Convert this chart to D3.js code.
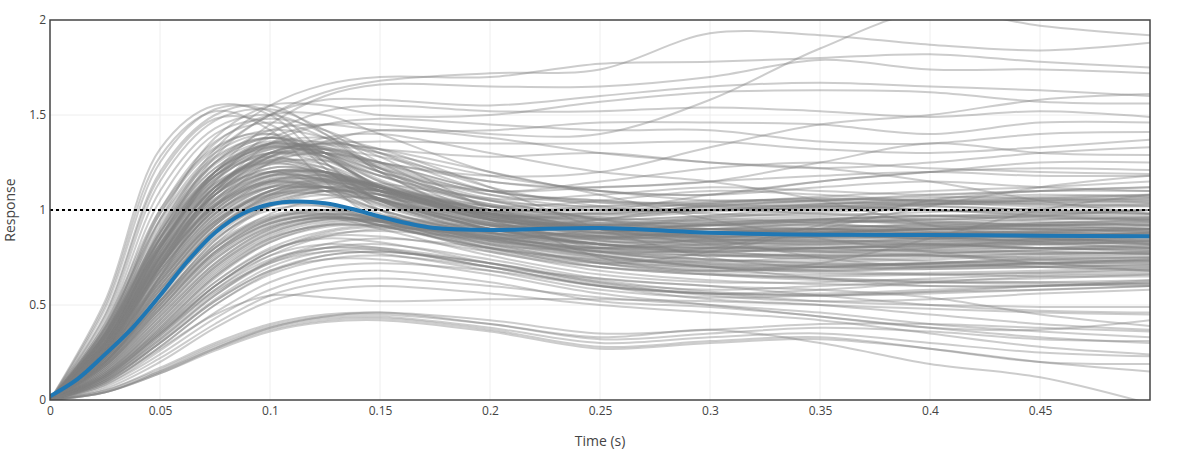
<!DOCTYPE html>
<html>
<head>
<meta charset="utf-8">
<script src="https://cdn.jsdelivr.net/npm/d3@7"></script>
<style>
  body { margin: 0; background: #fff; }
  text { font-family: "Open Sans", "DejaVu Sans", sans-serif; fill: #444; }
</style>
</head>
<body>
<svg id="mainFrame"></svg>
<script>
// sample times shared by every gray run
const timeGrid = [0, 0.025, 0.05, 0.075, 0.1, 0.125, 0.15, 0.2, 0.25, 0.3, 0.35, 0.4, 0.45, 0.5];

// gray runs (fast overshoot)
const fastRuns = [
  [0, 0.52, 1.32, 1.55, 1.5, 1.25, 1.05, 0.92, 0.95, 1.0, 0.98, 0.95, 0.97, 1.0],
  [0, 0.48, 1.25, 1.53, 1.52, 1.3, 1.1, 0.9, 0.88, 0.93, 0.95, 0.92, 0.9, 0.92],
  [0, 0.45, 1.2, 1.5, 1.55, 1.4, 1.2, 0.95, 0.85, 0.88, 0.9, 0.86, 0.84, 0.86],
  [0, 0.42, 1.15, 1.47, 1.53, 1.42, 1.25, 1.02, 0.95, 0.97, 1.02, 1.0, 0.97, 0.95],
  [0, 0.4, 1.1, 1.43, 1.5, 1.4, 1.22, 0.98, 0.9, 0.82, 0.78, 0.8, 0.85, 0.88],
  [0, 0.38, 1.05, 1.4, 1.48, 1.42, 1.3, 1.1, 1.05, 1.02, 1.0, 1.03, 1.05, 1.04],
  [0, 0.36, 1.0, 1.36, 1.46, 1.38, 1.2, 0.95, 0.8, 0.78, 0.8, 0.82, 0.8, 0.78],
  [0, 0.44, 1.18, 1.48, 1.45, 1.22, 1.0, 0.82, 0.8, 0.85, 0.88, 0.86, 0.83, 0.8],
  [0, 0.5, 1.28, 1.52, 1.42, 1.15, 0.95, 0.85, 0.9, 0.95, 0.93, 0.9, 0.92, 0.94],
  [0, 0.35, 0.98, 1.35, 1.5, 1.5, 1.4, 1.2, 1.1, 1.08, 1.12, 1.15, 1.12, 1.1]
];

// runs that stay high
const highRuns = [
  [0, 0.3, 0.88, 1.3, 1.5, 1.62, 1.68, 1.72, 1.74, 1.93, 1.92, 1.87, 1.84, 1.88],
  [0, 0.28, 0.8, 1.2, 1.38, 1.45, 1.45, 1.4, 1.4, 1.58, 1.85, 2.05, 1.97, 1.92],
  [0, 0.32, 0.9, 1.32, 1.55, 1.66, 1.7, 1.7, 1.77, 1.78, 1.8, 1.82, 1.78, 1.75],
  [0, 0.26, 0.78, 1.2, 1.45, 1.6, 1.66, 1.65, 1.65, 1.7, 1.79, 1.74, 1.74, 1.72],
  [0, 0.3, 0.85, 1.28, 1.5, 1.58, 1.58, 1.55, 1.6, 1.65, 1.67, 1.65, 1.63, 1.6],
  [0, 0.34, 0.95, 1.38, 1.55, 1.55, 1.5, 1.5, 1.57, 1.62, 1.63, 1.62, 1.57, 1.56],
  [0, 0.25, 0.75, 1.15, 1.4, 1.52, 1.55, 1.52, 1.52, 1.54, 1.52, 1.49, 1.52, 1.49],
  [0, 0.3, 0.85, 1.25, 1.42, 1.45, 1.42, 1.42, 1.46, 1.46, 1.45, 1.4, 1.46, 1.46],
  [0, 0.22, 0.7, 1.1, 1.35, 1.45, 1.48, 1.45, 1.42, 1.42, 1.36, 1.35, 1.4, 1.41],
  [0, 0.28, 0.8, 1.2, 1.35, 1.32, 1.25, 1.18, 1.2, 1.33, 1.45, 1.5, 1.58, 1.61],
  [0, 0.26, 0.75, 1.12, 1.3, 1.35, 1.36, 1.35, 1.35, 1.36, 1.32, 1.3, 1.33, 1.37],
  [0, 0.24, 0.72, 1.1, 1.3, 1.35, 1.32, 1.28, 1.3, 1.25, 1.22, 1.25, 1.3, 1.33],
  [0, 0.3, 0.82, 1.2, 1.35, 1.3, 1.2, 1.1, 1.12, 1.15, 1.25, 1.35, 1.3, 1.29],
  [0, 0.2, 0.65, 1.05, 1.25, 1.3, 1.25, 1.15, 1.1, 1.08, 1.15, 1.2, 1.25, 1.25]
];

// the dense middle band
const coreRuns = [
  [0, 0.3, 0.75, 1.08, 1.22, 1.2, 1.1, 0.95, 0.92, 0.94, 0.95, 0.93, 0.92, 0.93],
  [0, 0.28, 0.7, 1.02, 1.18, 1.2, 1.12, 0.98, 0.95, 0.97, 1.0, 1.02, 1.0, 0.98],
  [0, 0.25, 0.65, 0.98, 1.15, 1.18, 1.12, 0.96, 0.88, 0.86, 0.88, 0.9, 0.9, 0.88],
  [0, 0.22, 0.6, 0.92, 1.1, 1.16, 1.13, 1.0, 0.9, 0.85, 0.83, 0.85, 0.87, 0.86],
  [0, 0.32, 0.78, 1.1, 1.2, 1.12, 1.0, 0.88, 0.86, 0.88, 0.87, 0.85, 0.86, 0.88],
  [0, 0.2, 0.55, 0.88, 1.08, 1.15, 1.14, 1.05, 0.95, 0.9, 0.88, 0.9, 0.93, 0.95],
  [0, 0.26, 0.66, 0.98, 1.12, 1.12, 1.05, 0.9, 0.82, 0.8, 0.8, 0.82, 0.8, 0.79],
  [0, 0.35, 0.85, 1.18, 1.28, 1.2, 1.05, 0.88, 0.85, 0.9, 0.92, 0.9, 0.88, 0.9],
  [0, 0.18, 0.5, 0.82, 1.02, 1.1, 1.1, 1.02, 0.95, 0.92, 0.9, 0.88, 0.89, 0.9],
  [0, 0.24, 0.62, 0.94, 1.1, 1.12, 1.06, 0.92, 0.86, 0.85, 0.84, 0.83, 0.82, 0.84],
  [0, 0.3, 0.74, 1.06, 1.2, 1.18, 1.08, 0.93, 0.88, 0.87, 0.9, 0.93, 0.95, 0.96],
  [0, 0.27, 0.68, 1.0, 1.16, 1.15, 1.06, 0.9, 0.84, 0.83, 0.86, 0.88, 0.86, 0.82],
  [0, 0.22, 0.58, 0.9, 1.06, 1.1, 1.05, 0.92, 0.85, 0.82, 0.8, 0.78, 0.77, 0.78],
  [0, 0.33, 0.8, 1.12, 1.25, 1.22, 1.12, 0.98, 0.97, 1.0, 1.02, 1.0, 0.98, 1.0],
  [0, 0.2, 0.52, 0.84, 1.02, 1.08, 1.05, 0.95, 0.88, 0.86, 0.86, 0.87, 0.85, 0.83],
  [0, 0.28, 0.7, 1.02, 1.15, 1.12, 1.02, 0.88, 0.83, 0.84, 0.86, 0.85, 0.84, 0.85],
  [0, 0.25, 0.64, 0.96, 1.12, 1.15, 1.1, 0.98, 0.92, 0.92, 0.93, 0.95, 0.96, 0.94],
  [0, 0.3, 0.72, 1.03, 1.15, 1.1, 0.98, 0.84, 0.8, 0.82, 0.84, 0.82, 0.8, 0.81],
  [0, 0.19, 0.5, 0.8, 0.98, 1.06, 1.06, 0.98, 0.9, 0.86, 0.85, 0.86, 0.88, 0.87],
  [0, 0.26, 0.67, 1.0, 1.15, 1.16, 1.1, 0.95, 0.9, 0.9, 0.88, 0.86, 0.88, 0.91],
  [0, 0.23, 0.6, 0.92, 1.08, 1.1, 1.04, 0.9, 0.82, 0.78, 0.76, 0.77, 0.79, 0.8],
  [0, 0.29, 0.73, 1.05, 1.18, 1.16, 1.06, 0.93, 0.9, 0.92, 0.94, 0.96, 0.97, 0.97],
  [0, 0.21, 0.56, 0.88, 1.05, 1.12, 1.1, 1.0, 0.94, 0.93, 0.94, 0.93, 0.92, 0.92],
  [0, 0.31, 0.76, 1.08, 1.2, 1.15, 1.03, 0.88, 0.82, 0.8, 0.82, 0.84, 0.83, 0.82],
  [0, 0.24, 0.62, 0.95, 1.12, 1.16, 1.12, 1.0, 0.93, 0.9, 0.87, 0.85, 0.84, 0.85],
  [0, 0.27, 0.68, 0.99, 1.12, 1.1, 1.0, 0.86, 0.8, 0.78, 0.8, 0.81, 0.82, 0.83],
  [0, 0.34, 0.82, 1.14, 1.25, 1.18, 1.05, 0.92, 0.92, 0.96, 0.98, 0.97, 0.95, 0.96],
  [0, 0.2, 0.54, 0.86, 1.04, 1.1, 1.08, 0.98, 0.9, 0.87, 0.88, 0.9, 0.9, 0.89],
  [0, 0.25, 0.63, 0.94, 1.08, 1.08, 1.0, 0.87, 0.82, 0.82, 0.83, 0.84, 0.82, 0.8],
  [0, 0.29, 0.71, 1.02, 1.14, 1.12, 1.03, 0.9, 0.87, 0.88, 0.89, 0.88, 0.86, 0.86],
  [0, 0.27, 0.7, 1.04, 1.2, 1.2, 1.12, 0.97, 0.9, 0.88, 0.9, 0.92, 0.91, 0.9],
  [0, 0.31, 0.78, 1.12, 1.26, 1.24, 1.12, 0.95, 0.92, 0.95, 0.96, 0.94, 0.93, 0.95],
  [0, 0.23, 0.6, 0.93, 1.1, 1.14, 1.08, 0.93, 0.84, 0.8, 0.79, 0.8, 0.82, 0.83],
  [0, 0.29, 0.74, 1.08, 1.24, 1.26, 1.18, 1.03, 0.96, 0.94, 0.95, 0.97, 0.98, 0.98],
  [0, 0.26, 0.67, 1.0, 1.16, 1.18, 1.1, 0.94, 0.86, 0.83, 0.82, 0.82, 0.84, 0.86],
  [0, 0.21, 0.57, 0.9, 1.08, 1.14, 1.12, 1.0, 0.9, 0.84, 0.82, 0.83, 0.85, 0.86],
  [0, 0.33, 0.82, 1.16, 1.3, 1.26, 1.13, 0.96, 0.9, 0.9, 0.93, 0.95, 0.94, 0.92],
  [0, 0.24, 0.63, 0.96, 1.13, 1.17, 1.12, 0.99, 0.92, 0.9, 0.9, 0.89, 0.88, 0.88],
  [0, 0.28, 0.71, 1.03, 1.18, 1.16, 1.06, 0.91, 0.85, 0.84, 0.85, 0.86, 0.85, 0.84],
  [0, 0.19, 0.52, 0.84, 1.03, 1.1, 1.08, 0.97, 0.88, 0.83, 0.81, 0.8, 0.8, 0.81],
  [0, 0.3, 0.76, 1.1, 1.24, 1.2, 1.08, 0.92, 0.86, 0.86, 0.88, 0.9, 0.9, 0.89],
  [0, 0.25, 0.65, 0.98, 1.15, 1.18, 1.12, 0.98, 0.9, 0.87, 0.86, 0.87, 0.89, 0.9],
  [0, 0.22, 0.59, 0.92, 1.1, 1.15, 1.1, 0.96, 0.86, 0.81, 0.79, 0.79, 0.8, 0.82],
  [0, 0.34, 0.84, 1.18, 1.3, 1.24, 1.1, 0.94, 0.9, 0.92, 0.94, 0.94, 0.92, 0.9],
  [0, 0.27, 0.69, 1.02, 1.18, 1.2, 1.13, 0.99, 0.93, 0.93, 0.95, 0.97, 0.96, 0.95],
  [0, 0.2, 0.55, 0.88, 1.06, 1.12, 1.1, 0.99, 0.91, 0.88, 0.88, 0.9, 0.91, 0.9],
  [0, 0.32, 0.8, 1.13, 1.26, 1.2, 1.06, 0.9, 0.86, 0.88, 0.9, 0.89, 0.87, 0.87],
  [0, 0.24, 0.62, 0.94, 1.1, 1.12, 1.05, 0.9, 0.82, 0.79, 0.78, 0.79, 0.78, 0.77],
  [0, 0.29, 0.73, 1.06, 1.2, 1.19, 1.1, 0.96, 0.92, 0.92, 0.92, 0.91, 0.92, 0.93],
  [0, 0.22, 0.58, 0.9, 1.07, 1.12, 1.08, 0.95, 0.87, 0.84, 0.84, 0.85, 0.86, 0.86],
  [0, 0.26, 0.68, 1.01, 1.17, 1.19, 1.12, 0.97, 0.89, 0.86, 0.86, 0.88, 0.88, 0.87],
  [0, 0.3, 0.75, 1.08, 1.22, 1.2, 1.1, 0.95, 0.9, 0.9, 0.91, 0.92, 0.93, 0.94],
  [0, 0.23, 0.61, 0.93, 1.09, 1.12, 1.06, 0.92, 0.84, 0.81, 0.8, 0.81, 0.83, 0.84],
  [0, 0.28, 0.72, 1.05, 1.2, 1.2, 1.11, 0.96, 0.9, 0.89, 0.89, 0.88, 0.87, 0.88],
  [0, 0.25, 0.64, 0.97, 1.14, 1.17, 1.11, 0.97, 0.9, 0.88, 0.89, 0.91, 0.92, 0.92],
  [0, 0.21, 0.56, 0.89, 1.07, 1.13, 1.1, 0.98, 0.89, 0.85, 0.83, 0.82, 0.83, 0.84],
  [0, 0.33, 0.81, 1.14, 1.27, 1.22, 1.09, 0.93, 0.9, 0.92, 0.95, 0.97, 0.97, 0.96],
  [0, 0.27, 0.7, 1.03, 1.19, 1.2, 1.12, 0.97, 0.91, 0.9, 0.9, 0.9, 0.89, 0.89]
];

// core runs with a bigger overshoot, settling near 1
const upperRuns = [
  [0, 0.36, 0.9, 1.25, 1.38, 1.3, 1.15, 1.0, 1.02, 1.05, 1.05, 1.03, 1.04, 1.05],
  [0, 0.32, 0.82, 1.18, 1.35, 1.35, 1.22, 1.02, 0.98, 1.0, 1.03, 1.06, 1.08, 1.07],
  [0, 0.3, 0.78, 1.15, 1.32, 1.33, 1.25, 1.1, 1.05, 1.03, 1.02, 1.04, 1.06, 1.08],
  [0, 0.38, 0.95, 1.3, 1.4, 1.3, 1.12, 0.97, 0.98, 1.02, 1.04, 1.02, 1.0, 1.0],
  [0, 0.28, 0.74, 1.1, 1.3, 1.36, 1.3, 1.12, 1.02, 0.98, 0.97, 0.99, 1.01, 1.02],
  [0, 0.34, 0.86, 1.22, 1.35, 1.28, 1.12, 0.95, 0.93, 0.96, 0.99, 1.0, 0.99, 0.98],
  [0, 0.3, 0.8, 1.16, 1.3, 1.28, 1.18, 1.06, 1.08, 1.12, 1.1, 1.08, 1.1, 1.12],
  [0, 0.26, 0.7, 1.08, 1.28, 1.34, 1.3, 1.18, 1.1, 1.05, 1.05, 1.08, 1.1, 1.1],
  [0, 0.4, 1.0, 1.33, 1.4, 1.25, 1.05, 0.9, 0.95, 1.03, 1.06, 1.04, 1.02, 1.03],
  [0, 0.33, 0.84, 1.2, 1.34, 1.32, 1.22, 1.08, 1.04, 1.04, 1.07, 1.1, 1.12, 1.15],
  [0, 0.27, 0.72, 1.1, 1.28, 1.32, 1.28, 1.15, 1.12, 1.15, 1.18, 1.2, 1.18, 1.18],
  [0, 0.35, 0.88, 1.24, 1.36, 1.3, 1.16, 1.02, 1.0, 1.08, 1.15, 1.2, 1.22, 1.21],
  [0, 0.31, 0.8, 1.17, 1.33, 1.33, 1.23, 1.1, 1.15, 1.22, 1.25, 1.22, 1.2, 1.19],
  [0, 0.37, 0.92, 1.27, 1.38, 1.28, 1.12, 1.02, 1.05, 1.1, 1.08, 1.05, 1.06, 1.07],
  [0, 0.36, 0.88, 1.22, 1.34, 1.27, 1.13, 0.98, 0.96, 0.99, 1.01, 1.0, 0.99, 1.0],
  [0, 0.3, 0.77, 1.12, 1.28, 1.3, 1.22, 1.06, 1.0, 1.0, 1.02, 1.03, 1.03, 1.02],
  [0, 0.35, 0.86, 1.2, 1.33, 1.28, 1.15, 1.0, 0.98, 1.02, 1.05, 1.05, 1.03, 1.03],
  [0, 0.27, 0.72, 1.08, 1.26, 1.3, 1.24, 1.08, 1.01, 1.0, 1.01, 1.03, 1.05, 1.06],
  [0, 0.32, 0.82, 1.18, 1.32, 1.3, 1.2, 1.05, 1.02, 1.03, 1.05, 1.07, 1.06, 1.05],
  [0, 0.38, 0.94, 1.28, 1.38, 1.28, 1.12, 0.98, 0.99, 1.04, 1.06, 1.05, 1.04, 1.04],
  [0, 0.29, 0.76, 1.12, 1.29, 1.32, 1.25, 1.1, 1.04, 1.02, 1.03, 1.05, 1.07, 1.08],
  [0, 0.34, 0.85, 1.2, 1.33, 1.3, 1.18, 1.03, 1.0, 1.01, 1.03, 1.04, 1.05, 1.06]
];

// runs that wander down or back up late
const driftRuns = [
  [0, 0.38, 0.98, 1.32, 1.42, 1.38, 1.28, 1.0, 0.75, 0.68, 0.7, 0.72, 0.7, 0.68],
  [0, 0.3, 0.8, 1.18, 1.35, 1.38, 1.32, 1.12, 0.9, 0.75, 0.7, 0.72, 0.75, 0.76],
  [0, 0.34, 0.88, 1.25, 1.38, 1.32, 1.2, 1.05, 0.95, 0.85, 0.75, 0.7, 0.72, 0.74],
  [0, 0.28, 0.76, 1.12, 1.3, 1.35, 1.32, 1.2, 1.08, 0.95, 0.85, 0.78, 0.72, 0.7],
  [0, 0.25, 0.7, 1.08, 1.28, 1.38, 1.4, 1.3, 1.2, 1.15, 1.05, 0.92, 0.85, 0.82],
  [0, 0.22, 0.65, 1.02, 1.25, 1.36, 1.42, 1.38, 1.3, 1.25, 1.22, 1.15, 1.05, 0.98],
  [0, 0.2, 0.55, 0.85, 1.0, 1.02, 0.95, 0.8, 0.72, 0.78, 0.9, 1.02, 1.12, 1.18],
  [0, 0.22, 0.58, 0.88, 1.02, 1.02, 0.94, 0.78, 0.7, 0.68, 0.72, 0.85, 1.0, 1.08],
  [0, 0.18, 0.48, 0.78, 0.95, 1.0, 0.97, 0.85, 0.78, 0.8, 0.92, 1.05, 1.1, 1.12]
];

// slower runs settling lower
const slowRuns = [
  [0, 0.15, 0.42, 0.7, 0.88, 0.95, 0.95, 0.86, 0.78, 0.74, 0.72, 0.72, 0.74, 0.75],
  [0, 0.17, 0.46, 0.75, 0.92, 0.98, 0.96, 0.85, 0.76, 0.7, 0.68, 0.7, 0.72, 0.72],
  [0, 0.13, 0.38, 0.65, 0.84, 0.93, 0.95, 0.9, 0.82, 0.78, 0.75, 0.73, 0.72, 0.73],
  [0, 0.2, 0.52, 0.8, 0.95, 0.98, 0.92, 0.8, 0.72, 0.68, 0.66, 0.67, 0.68, 0.7],
  [0, 0.16, 0.44, 0.72, 0.9, 0.97, 0.97, 0.9, 0.82, 0.77, 0.74, 0.75, 0.77, 0.78],
  [0, 0.12, 0.35, 0.6, 0.78, 0.88, 0.91, 0.86, 0.78, 0.72, 0.7, 0.69, 0.7, 0.71],
  [0, 0.18, 0.48, 0.77, 0.93, 0.96, 0.9, 0.76, 0.66, 0.62, 0.62, 0.64, 0.66, 0.67],
  [0, 0.14, 0.4, 0.68, 0.86, 0.94, 0.94, 0.86, 0.78, 0.76, 0.77, 0.78, 0.78, 0.77],
  [0, 0.19, 0.5, 0.78, 0.94, 0.97, 0.92, 0.8, 0.74, 0.73, 0.75, 0.76, 0.74, 0.73],
  [0, 0.11, 0.33, 0.58, 0.76, 0.86, 0.9, 0.88, 0.82, 0.8, 0.8, 0.81, 0.8, 0.79],
  [0, 0.16, 0.45, 0.74, 0.91, 0.96, 0.94, 0.84, 0.75, 0.7, 0.64, 0.6, 0.6, 0.62],
  [0, 0.14, 0.39, 0.66, 0.85, 0.92, 0.92, 0.85, 0.8, 0.79, 0.78, 0.76, 0.72, 0.68],
  [0, 0.17, 0.47, 0.76, 0.93, 0.98, 0.95, 0.84, 0.76, 0.72, 0.71, 0.72, 0.73, 0.74],
  [0, 0.15, 0.43, 0.71, 0.89, 0.96, 0.96, 0.88, 0.8, 0.76, 0.75, 0.76, 0.77, 0.77],
  [0, 0.19, 0.51, 0.8, 0.96, 1.0, 0.95, 0.83, 0.75, 0.71, 0.7, 0.7, 0.71, 0.72],
  [0, 0.13, 0.37, 0.64, 0.83, 0.92, 0.94, 0.89, 0.81, 0.77, 0.76, 0.76, 0.75, 0.75],
  [0, 0.18, 0.49, 0.78, 0.95, 0.99, 0.94, 0.82, 0.73, 0.69, 0.68, 0.69, 0.7, 0.71],
  [0, 0.14, 0.41, 0.69, 0.87, 0.95, 0.95, 0.87, 0.78, 0.73, 0.71, 0.71, 0.72, 0.74],
  [0, 0.2, 0.53, 0.82, 0.97, 1.0, 0.94, 0.81, 0.73, 0.7, 0.7, 0.72, 0.74, 0.75],
  [0, 0.16, 0.44, 0.72, 0.9, 0.96, 0.94, 0.85, 0.77, 0.74, 0.73, 0.74, 0.76, 0.77],
  [0, 0.12, 0.36, 0.62, 0.8, 0.89, 0.92, 0.87, 0.79, 0.74, 0.72, 0.71, 0.7, 0.69],
  [0, 0.18, 0.48, 0.77, 0.93, 0.97, 0.92, 0.8, 0.7, 0.66, 0.65, 0.66, 0.67, 0.68],
  [0, 0.15, 0.42, 0.7, 0.88, 0.95, 0.94, 0.86, 0.79, 0.76, 0.76, 0.77, 0.79, 0.8],
  [0, 0.2, 0.52, 0.81, 0.96, 0.98, 0.92, 0.79, 0.7, 0.66, 0.64, 0.63, 0.64, 0.66],
  [0, 0.13, 0.38, 0.65, 0.83, 0.91, 0.92, 0.85, 0.76, 0.7, 0.67, 0.66, 0.67, 0.69],
  [0, 0.17, 0.46, 0.74, 0.91, 0.96, 0.93, 0.83, 0.74, 0.7, 0.69, 0.7, 0.72, 0.73],
  [0, 0.11, 0.34, 0.6, 0.78, 0.87, 0.89, 0.84, 0.76, 0.71, 0.68, 0.66, 0.65, 0.65],
  [0, 0.14, 0.4, 0.67, 0.85, 0.92, 0.91, 0.82, 0.72, 0.66, 0.63, 0.62, 0.62, 0.63],
  [0, 0.1, 0.31, 0.55, 0.73, 0.82, 0.85, 0.8, 0.72, 0.67, 0.64, 0.62, 0.61, 0.6],
  [0, 0.12, 0.35, 0.6, 0.78, 0.86, 0.86, 0.78, 0.68, 0.63, 0.61, 0.6, 0.6, 0.61]
];

// lower runs between the core and the low bundle
const lowerRuns = [
  [0, 0.1, 0.3, 0.52, 0.68, 0.76, 0.78, 0.72, 0.62, 0.58, 0.6, 0.62, 0.62, 0.61],
  [0, 0.12, 0.34, 0.57, 0.72, 0.78, 0.77, 0.68, 0.58, 0.54, 0.55, 0.57, 0.58, 0.6],
  [0, 0.08, 0.26, 0.46, 0.62, 0.7, 0.72, 0.68, 0.6, 0.56, 0.52, 0.5, 0.49, 0.49],
  [0, 0.11, 0.32, 0.55, 0.72, 0.8, 0.82, 0.74, 0.64, 0.6, 0.55, 0.5, 0.47, 0.46],
  [0, 0.09, 0.28, 0.5, 0.66, 0.74, 0.76, 0.7, 0.64, 0.6, 0.58, 0.54, 0.45, 0.39],
  [0, 0.13, 0.36, 0.6, 0.76, 0.82, 0.8, 0.7, 0.6, 0.56, 0.58, 0.62, 0.65, 0.66],
  [0, 0.07, 0.22, 0.4, 0.55, 0.62, 0.64, 0.6, 0.54, 0.5, 0.46, 0.4, 0.36, 0.33],
  [0, 0.08, 0.24, 0.43, 0.58, 0.66, 0.68, 0.62, 0.52, 0.49, 0.44, 0.38, 0.33, 0.3],
  [0, 0.06, 0.2, 0.38, 0.52, 0.58, 0.6, 0.56, 0.5, 0.46, 0.42, 0.35, 0.28, 0.24],
  [0, 0.1, 0.3, 0.52, 0.68, 0.74, 0.74, 0.66, 0.56, 0.5, 0.44, 0.38, 0.37, 0.42],
  [0, 0.12, 0.35, 0.58, 0.74, 0.8, 0.79, 0.7, 0.6, 0.53, 0.5, 0.45, 0.4, 0.37],
  [0, 0.09, 0.27, 0.45, 0.55, 0.54, 0.52, 0.53, 0.53, 0.52, 0.5, 0.48, 0.46, 0.45],
  [0, 0.09, 0.28, 0.5, 0.67, 0.76, 0.78, 0.72, 0.63, 0.57, 0.55, 0.56, 0.58, 0.6],
  [0, 0.11, 0.32, 0.56, 0.73, 0.8, 0.8, 0.72, 0.62, 0.55, 0.52, 0.53, 0.56, 0.58],
  [0, 0.1, 0.3, 0.53, 0.7, 0.78, 0.79, 0.7, 0.6, 0.56, 0.56, 0.58, 0.6, 0.62],
  [0, 0.13, 0.37, 0.62, 0.79, 0.85, 0.83, 0.72, 0.61, 0.56, 0.55, 0.57, 0.6, 0.63]
];

// the low bundle near 0.3-0.45
const lowRuns = [
  [0, 0.05, 0.17, 0.3, 0.4, 0.45, 0.46, 0.42, 0.35, 0.37, 0.4, 0.4, 0.38, 0.36],
  [0, 0.05, 0.16, 0.29, 0.39, 0.44, 0.45, 0.4, 0.32, 0.35, 0.38, 0.36, 0.32, 0.31],
  [0, 0.04, 0.15, 0.28, 0.38, 0.43, 0.44, 0.38, 0.3, 0.33, 0.35, 0.3, 0.25, 0.23],
  [0, 0.04, 0.15, 0.27, 0.37, 0.42, 0.43, 0.37, 0.28, 0.31, 0.33, 0.27, 0.2, 0.19],
  [0, 0.04, 0.14, 0.26, 0.36, 0.41, 0.42, 0.36, 0.27, 0.3, 0.32, 0.27, 0.2, 0.15],
  [0, 0.04, 0.14, 0.27, 0.38, 0.44, 0.46, 0.4, 0.33, 0.37, 0.3, 0.19, 0.12, -0.02]
];

// blue mean curve
const meanTime = [0, 0.0125, 0.025, 0.0375, 0.05, 0.0625, 0.075, 0.0875, 0.1, 0.1125, 0.125, 0.1375, 0.15, 0.1625, 0.175, 0.2, 0.25, 0.3, 0.35, 0.4, 0.45, 0.5];
const meanValues = [0.02, 0.11, 0.24, 0.38, 0.55, 0.73, 0.88, 0.98, 1.03, 1.045, 1.035, 1.005, 0.965, 0.93, 0.905, 0.895, 0.905, 0.88, 0.87, 0.868, 0.865, 0.862];

const reference = 1;
const xTicks = [0, 0.05, 0.1, 0.15, 0.2, 0.25, 0.3, 0.35, 0.4, 0.45];
const yTicks = [0, 0.5, 1, 1.5, 2];

const width = 1200;
const height = 450;
const margin = { top: 20, right: 50, bottom: 50, left: 50 };

const svg = d3.select('#mainFrame')
    .attr('width', width)
    .attr('height', height);

const xScale = d3.scaleLinear()
    .domain([0, 0.5])
    .range([margin.left, width - margin.right]);

const yScale = d3.scaleLinear()
    .domain([0, 2])
    .range([height - margin.bottom, margin.top]);

svg.append('defs').append('clipPath')
    .attr('id', 'plotClip')
  .append('rect')
    .attr('x', margin.left)
    .attr('y', margin.top)
    .attr('width', xScale.range()[1] - margin.left)
    .attr('height', yScale.range()[0] - margin.top);

// grid lines
svg.append('g')
    .selectAll('line').data(xTicks.slice(1))
    .enter().append('line')
        .attr('x1', d => xScale(d)).attr('x2', d => xScale(d))
        .attr('y1', margin.top).attr('y2', yScale(0))
        .attr('stroke', '#eee').attr('stroke-width', 1);

svg.append('g')
    .selectAll('line').data(yTicks.slice(1, -1))
    .enter().append('line')
        .attr('x1', margin.left).attr('x2', xScale(0.5))
        .attr('y1', d => yScale(d)).attr('y2', d => yScale(d))
        .attr('stroke', '#eee').attr('stroke-width', 1);

const runs = [].concat(fastRuns, highRuns, coreRuns, upperRuns, driftRuns, slowRuns, lowerRuns, lowRuns);

const line = d3.line()
    .x(d => xScale(d[0]))
    .y(d => yScale(d[1]))
    .curve(d3.curveCatmullRom.alpha(0.5));

const plot = svg.append('g').attr('clip-path', 'url(#plotClip)');

plot.selectAll('path.run').data(runs)
    .enter().append('path')
        .attr('class', 'run')
        .attr('d', r => line(r.map((v, i) => [timeGrid[i], v])))
        .attr('fill', 'none')
        .attr('stroke', 'rgb(128,128,128)')
        .attr('stroke-opacity', 0.4)
        .attr('stroke-width', 2);

plot.append('line')
    .attr('x1', xScale(0)).attr('x2', xScale(0.5))
    .attr('y1', yScale(reference)).attr('y2', yScale(reference))
    .attr('stroke', '#000')
    .attr('stroke-width', 2)
    .attr('stroke-dasharray', '3,3');

plot.append('path')
    .attr('d', line(meanTime.map((t, i) => [t, meanValues[i]])))
    .attr('fill', 'none')
    .attr('stroke', '#1f77b4')
    .attr('stroke-width', 4);

// frame
svg.append('rect')
    .attr('x', margin.left)
    .attr('y', margin.top)
    .attr('width', xScale(0.5) - margin.left)
    .attr('height', yScale(0) - margin.top)
    .attr('fill', 'none')
    .attr('stroke', '#444')
    .attr('stroke-width', 1.5);

// axes, tick lines removed
const xAxis = svg.append('g')
    .attr('transform', `translate(0,${yScale(0)})`)
    .call(d3.axisBottom(xScale).tickValues(xTicks).tickFormat(d3.format('')).tickSize(0).tickPadding(6));
xAxis.select('.domain').remove();
xAxis.selectAll('text').attr('font-size', 12).attr('fill', '#444');

const yAxis = svg.append('g')
    .attr('transform', `translate(${margin.left},0)`)
    .call(d3.axisLeft(yScale).tickValues(yTicks).tickFormat(d3.format('')).tickSize(0).tickPadding(4));
yAxis.select('.domain').remove();
yAxis.selectAll('text').attr('font-size', 12).attr('fill', '#444');

svg.append('text')
    .attr('x', (margin.left + xScale(0.5)) / 2)
    .attr('y', 446)
    .attr('text-anchor', 'middle')
    .attr('font-size', 14)
    .text('Time (s)');

svg.append('text')
    .attr('transform', `translate(15,${yScale(1)}) rotate(-90)`)
    .attr('text-anchor', 'middle')
    .attr('font-size', 14)
    .text('Response');
</script>
</body>
</html>
